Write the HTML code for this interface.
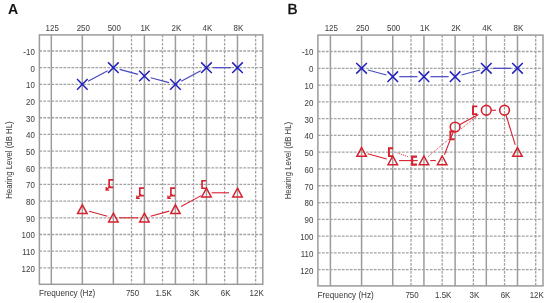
<!DOCTYPE html>
<html><head><meta charset="utf-8"><style>
html,body{margin:0;padding:0;background:#fff;width:550px;height:303px;overflow:hidden}
svg{display:block}
</style></head><body>
<svg width="550" height="303" viewBox="0 0 550 303">
<style>
.d{stroke:#a2a2a2;stroke-width:1.3;stroke-dasharray:2.7 1.3;fill:none}
.s{stroke:#9c9c9c;stroke-width:1.5}
.tk{font-family:"Liberation Sans",sans-serif;font-size:9px;fill:#444444;stroke:#444444;stroke-width:0.05px}
.fq{font-family:"Liberation Sans",sans-serif;font-size:8.6px;fill:#444444;stroke:#444444;stroke-width:0.05px}
.hl{font-family:"Liberation Sans",sans-serif;font-size:8.3px;fill:#444444;stroke:#444444;stroke-width:0.05px}
.big{font-family:"Liberation Sans",sans-serif;font-size:15px;font-weight:bold;fill:#111}
.big2{font-family:"Liberation Sans",sans-serif;font-size:15px;fill:#111;stroke:#111;stroke-width:0.45px}
.bx{stroke:#2020c0;stroke-width:1.5;fill:none}
.bl{stroke:#4848c4;stroke-width:1.2;fill:none}
.rt{stroke:#d7202e;stroke-width:1.5;fill:none;stroke-linejoin:miter}
.rb{stroke:#d7202e;stroke-width:1.65;fill:none}
.rc{stroke:#d7202e;stroke-width:1.6;fill:none}
.ra{stroke:#d7202e;stroke-width:1.3;fill:none;stroke-linejoin:miter}
.rl{stroke:#d7202e;stroke-width:1.1;fill:none}
.rd{stroke:#d7202e;stroke-width:0.9;stroke-dasharray:1 1;fill:none}
</style>
<rect width="550" height="303" fill="#fff"/>
<line x1="39.4" y1="51.02" x2="262.8" y2="51.02" class="d"/>
<line x1="39.4" y1="67.7" x2="262.8" y2="67.7" class="d"/>
<line x1="39.4" y1="84.38" x2="262.8" y2="84.38" class="d"/>
<line x1="39.4" y1="101.06" x2="262.8" y2="101.06" class="d"/>
<line x1="39.4" y1="117.74" x2="262.8" y2="117.74" class="d"/>
<line x1="39.4" y1="134.42" x2="262.8" y2="134.42" class="d"/>
<line x1="39.4" y1="151.1" x2="262.8" y2="151.1" class="d"/>
<line x1="39.4" y1="167.78" x2="262.8" y2="167.78" class="d"/>
<line x1="39.4" y1="184.46" x2="262.8" y2="184.46" class="d"/>
<line x1="39.4" y1="201.14" x2="262.8" y2="201.14" class="d"/>
<line x1="39.4" y1="217.82" x2="262.8" y2="217.82" class="d"/>
<line x1="39.4" y1="234.5" x2="262.8" y2="234.5" class="d"/>
<line x1="39.4" y1="251.18" x2="262.8" y2="251.18" class="d"/>
<line x1="39.4" y1="267.86" x2="262.8" y2="267.86" class="d"/>
<line x1="131.51" y1="34.9" x2="131.51" y2="284.3" class="d"/>
<line x1="162.54" y1="34.9" x2="162.54" y2="284.3" class="d"/>
<line x1="193.57" y1="34.9" x2="193.57" y2="284.3" class="d"/>
<line x1="224.6" y1="34.9" x2="224.6" y2="284.3" class="d"/>
<line x1="255.63" y1="34.9" x2="255.63" y2="284.3" class="d"/>
<line x1="51.3" y1="34.9" x2="51.3" y2="284.3" class="s"/>
<line x1="82.33" y1="34.9" x2="82.33" y2="284.3" class="s"/>
<line x1="113.36" y1="34.9" x2="113.36" y2="284.3" class="s"/>
<line x1="144.39" y1="34.9" x2="144.39" y2="284.3" class="s"/>
<line x1="175.42" y1="34.9" x2="175.42" y2="284.3" class="s"/>
<line x1="206.45" y1="34.9" x2="206.45" y2="284.3" class="s"/>
<line x1="237.48" y1="34.9" x2="237.48" y2="284.3" class="s"/>
<rect x="39.4" y="34.9" width="223.4" height="249.4" class="s" fill="none"/>
<text transform="translate(8.1 13.9) scale(0.94 1)" class="big">A</text>
<text transform="translate(52.2 30.9) scale(0.88 1)" class="tk" text-anchor="middle">125</text>
<text transform="translate(83.23 30.9) scale(0.88 1)" class="tk" text-anchor="middle">250</text>
<text transform="translate(114.26 30.9) scale(0.88 1)" class="tk" text-anchor="middle">500</text>
<text transform="translate(145.29 30.9) scale(0.88 1)" class="tk" text-anchor="middle">1K</text>
<text transform="translate(176.32 30.9) scale(0.88 1)" class="tk" text-anchor="middle">2K</text>
<text transform="translate(207.35 30.9) scale(0.88 1)" class="tk" text-anchor="middle">4K</text>
<text transform="translate(238.38 30.9) scale(0.88 1)" class="tk" text-anchor="middle">8K</text>
<text transform="translate(132.51 296.2) scale(0.88 1)" class="tk" text-anchor="middle">750</text>
<text transform="translate(163.54 296.2) scale(0.88 1)" class="tk" text-anchor="middle">1.5K</text>
<text transform="translate(194.57 296.2) scale(0.88 1)" class="tk" text-anchor="middle">3K</text>
<text transform="translate(225.6 296.2) scale(0.88 1)" class="tk" text-anchor="middle">6K</text>
<text transform="translate(256.63 296.2) scale(0.88 1)" class="tk" text-anchor="middle">12K</text>
<text transform="translate(39.1 296.2) scale(0.95 1)" class="fq">Frequency (Hz)</text>
<text transform="translate(34.8 54.92) scale(0.88 1)" class="tk" text-anchor="end">-10</text>
<text transform="translate(34.8 71.6) scale(0.88 1)" class="tk" text-anchor="end">0</text>
<text transform="translate(34.8 88.28) scale(0.88 1)" class="tk" text-anchor="end">10</text>
<text transform="translate(34.8 104.96) scale(0.88 1)" class="tk" text-anchor="end">20</text>
<text transform="translate(34.8 121.64) scale(0.88 1)" class="tk" text-anchor="end">30</text>
<text transform="translate(34.8 138.32) scale(0.88 1)" class="tk" text-anchor="end">40</text>
<text transform="translate(34.8 155) scale(0.88 1)" class="tk" text-anchor="end">50</text>
<text transform="translate(34.8 171.68) scale(0.88 1)" class="tk" text-anchor="end">60</text>
<text transform="translate(34.8 188.36) scale(0.88 1)" class="tk" text-anchor="end">70</text>
<text transform="translate(34.8 205.04) scale(0.88 1)" class="tk" text-anchor="end">80</text>
<text transform="translate(34.8 221.72) scale(0.88 1)" class="tk" text-anchor="end">90</text>
<text transform="translate(34.8 238.4) scale(0.88 1)" class="tk" text-anchor="end">100</text>
<text transform="translate(34.8 255.08) scale(0.88 1)" class="tk" text-anchor="end">110</text>
<text transform="translate(34.8 271.76) scale(0.88 1)" class="tk" text-anchor="end">120</text>
<text transform="translate(12.2 160.1) rotate(-90) scale(0.946 1)" class="hl" text-anchor="middle">Hearing Level (dB HL)</text>
<line x1="317.9" y1="51.52" x2="543" y2="51.52" class="d"/>
<line x1="317.9" y1="68.3" x2="543" y2="68.3" class="d"/>
<line x1="317.9" y1="85.08" x2="543" y2="85.08" class="d"/>
<line x1="317.9" y1="101.86" x2="543" y2="101.86" class="d"/>
<line x1="317.9" y1="118.64" x2="543" y2="118.64" class="d"/>
<line x1="317.9" y1="135.42" x2="543" y2="135.42" class="d"/>
<line x1="317.9" y1="152.2" x2="543" y2="152.2" class="d"/>
<line x1="317.9" y1="168.98" x2="543" y2="168.98" class="d"/>
<line x1="317.9" y1="185.76" x2="543" y2="185.76" class="d"/>
<line x1="317.9" y1="202.54" x2="543" y2="202.54" class="d"/>
<line x1="317.9" y1="219.32" x2="543" y2="219.32" class="d"/>
<line x1="317.9" y1="236.1" x2="543" y2="236.1" class="d"/>
<line x1="317.9" y1="252.88" x2="543" y2="252.88" class="d"/>
<line x1="317.9" y1="269.66" x2="543" y2="269.66" class="d"/>
<line x1="411" y1="35.1" x2="411" y2="285.9" class="d"/>
<line x1="442.18" y1="35.1" x2="442.18" y2="285.9" class="d"/>
<line x1="473.36" y1="35.1" x2="473.36" y2="285.9" class="d"/>
<line x1="504.54" y1="35.1" x2="504.54" y2="285.9" class="d"/>
<line x1="535.72" y1="35.1" x2="535.72" y2="285.9" class="d"/>
<line x1="330.4" y1="35.1" x2="330.4" y2="285.9" class="s"/>
<line x1="361.58" y1="35.1" x2="361.58" y2="285.9" class="s"/>
<line x1="392.76" y1="35.1" x2="392.76" y2="285.9" class="s"/>
<line x1="423.94" y1="35.1" x2="423.94" y2="285.9" class="s"/>
<line x1="455.12" y1="35.1" x2="455.12" y2="285.9" class="s"/>
<line x1="486.3" y1="35.1" x2="486.3" y2="285.9" class="s"/>
<line x1="517.48" y1="35.1" x2="517.48" y2="285.9" class="s"/>
<rect x="317.9" y="35.1" width="225.1" height="250.8" class="s" fill="none"/>
<text x="287.6" y="13.9" class="big2">B</text>
<text transform="translate(331.3 30.9) scale(0.88 1)" class="tk" text-anchor="middle">125</text>
<text transform="translate(362.48 30.9) scale(0.88 1)" class="tk" text-anchor="middle">250</text>
<text transform="translate(393.66 30.9) scale(0.88 1)" class="tk" text-anchor="middle">500</text>
<text transform="translate(424.84 30.9) scale(0.88 1)" class="tk" text-anchor="middle">1K</text>
<text transform="translate(456.02 30.9) scale(0.88 1)" class="tk" text-anchor="middle">2K</text>
<text transform="translate(487.2 30.9) scale(0.88 1)" class="tk" text-anchor="middle">4K</text>
<text transform="translate(518.38 30.9) scale(0.88 1)" class="tk" text-anchor="middle">8K</text>
<text transform="translate(412 297.7) scale(0.88 1)" class="tk" text-anchor="middle">750</text>
<text transform="translate(443.18 297.7) scale(0.88 1)" class="tk" text-anchor="middle">1.5K</text>
<text transform="translate(474.36 297.7) scale(0.88 1)" class="tk" text-anchor="middle">3K</text>
<text transform="translate(505.54 297.7) scale(0.88 1)" class="tk" text-anchor="middle">6K</text>
<text transform="translate(536.72 297.7) scale(0.88 1)" class="tk" text-anchor="middle">12K</text>
<text transform="translate(317.6 297.7) scale(0.95 1)" class="fq">Frequency (Hz)</text>
<text transform="translate(313.4 55.42) scale(0.88 1)" class="tk" text-anchor="end">-10</text>
<text transform="translate(313.4 72.2) scale(0.88 1)" class="tk" text-anchor="end">0</text>
<text transform="translate(313.4 88.98) scale(0.88 1)" class="tk" text-anchor="end">10</text>
<text transform="translate(313.4 105.76) scale(0.88 1)" class="tk" text-anchor="end">20</text>
<text transform="translate(313.4 122.54) scale(0.88 1)" class="tk" text-anchor="end">30</text>
<text transform="translate(313.4 139.32) scale(0.88 1)" class="tk" text-anchor="end">40</text>
<text transform="translate(313.4 156.1) scale(0.88 1)" class="tk" text-anchor="end">50</text>
<text transform="translate(313.4 172.88) scale(0.88 1)" class="tk" text-anchor="end">60</text>
<text transform="translate(313.4 189.66) scale(0.88 1)" class="tk" text-anchor="end">70</text>
<text transform="translate(313.4 206.44) scale(0.88 1)" class="tk" text-anchor="end">80</text>
<text transform="translate(313.4 223.22) scale(0.88 1)" class="tk" text-anchor="end">90</text>
<text transform="translate(313.4 240) scale(0.88 1)" class="tk" text-anchor="end">100</text>
<text transform="translate(313.4 256.78) scale(0.88 1)" class="tk" text-anchor="end">110</text>
<text transform="translate(313.4 273.56) scale(0.88 1)" class="tk" text-anchor="end">120</text>
<text transform="translate(290.8 160.6) rotate(-90) scale(0.946 1)" class="hl" text-anchor="middle">Hearing Level (dB HL)</text>
<line x1="88.06" y1="81.3" x2="107.63" y2="70.78" class="bl"/>
<line x1="119.64" y1="69.39" x2="138.11" y2="74.35" class="bl"/>
<line x1="150.67" y1="77.73" x2="169.14" y2="82.69" class="bl"/>
<line x1="181.15" y1="81.3" x2="200.72" y2="70.78" class="bl"/>
<line x1="212.95" y1="67.7" x2="230.98" y2="67.7" class="bl"/>
<path d="M77.03 79.08L87.63 89.68M87.63 79.08L77.03 89.68" class="bx"/>
<path d="M108.06 62.4L118.66 73M118.66 62.4L108.06 73" class="bx"/>
<path d="M139.09 70.74L149.69 81.34M149.69 70.74L139.09 81.34" class="bx"/>
<path d="M170.12 79.08L180.72 89.68M180.72 79.08L170.12 89.68" class="bx"/>
<path d="M201.15 62.4L211.75 73M211.75 62.4L201.15 73" class="bx"/>
<path d="M232.18 62.4L242.78 73M242.78 62.4L232.18 73" class="bx"/>
<line x1="89.09" y1="211.3" x2="107.37" y2="216.21" class="rl"/>
<line x1="118.96" y1="217.82" x2="138.29" y2="217.82" class="rl"/>
<line x1="150.57" y1="216.16" x2="169.24" y2="211.14" class="rl"/>
<line x1="181.06" y1="206.45" x2="201.17" y2="195.64" class="rl"/>
<line x1="211.65" y1="192.8" x2="229.08" y2="192.8" class="rl"/>
<path d="M82.33 204.88L87.08 213.58L77.58 213.58Z" class="rt"/>
<path d="M113.36 213.22L118.11 221.92L108.61 221.92Z" class="rt"/>
<path d="M144.39 213.22L149.14 221.92L139.64 221.92Z" class="rt"/>
<path d="M175.42 204.88L180.17 213.58L170.67 213.58Z" class="rt"/>
<path d="M206.45 188.2L211.2 196.9L201.7 196.9Z" class="rt"/>
<path d="M237.48 188.2L242.23 196.9L232.73 196.9Z" class="rt"/>
<path d="M113.26 179.81H109.16V187.31H113.26" class="rb"/>
<path d="M110.36 185.86L106.16 190.06M106.16 187.06V190.06H109.16" class="ra"/>
<path d="M143.89 188.15H139.79V195.65H143.89" class="rb"/>
<path d="M140.99 194.2L136.79 198.4M136.79 195.4V198.4H139.79" class="ra"/>
<path d="M175.02 188.15H170.92V195.65H175.02" class="rb"/>
<path d="M172.12 194.2L167.92 198.4M167.92 195.4V198.4H170.92" class="ra"/>
<path d="M206.15 180.71H202.05V188.21H206.15" class="rb"/>
<line x1="367.86" y1="69.99" x2="386.48" y2="75" class="bl"/>
<line x1="399.26" y1="76.69" x2="417.44" y2="76.69" class="bl"/>
<line x1="430.44" y1="76.69" x2="448.62" y2="76.69" class="bl"/>
<line x1="461.4" y1="75" x2="480.02" y2="69.99" class="bl"/>
<line x1="492.8" y1="68.3" x2="510.98" y2="68.3" class="bl"/>
<path d="M356.28 63L366.88 73.6M366.88 63L356.28 73.6" class="bx"/>
<path d="M387.46 71.39L398.06 81.99M398.06 71.39L387.46 81.99" class="bx"/>
<path d="M418.64 71.39L429.24 81.99M429.24 71.39L418.64 81.99" class="bx"/>
<path d="M449.82 71.39L460.42 81.99M460.42 71.39L449.82 81.99" class="bx"/>
<path d="M481 63L491.6 73.6M491.6 63L481 73.6" class="bx"/>
<path d="M512.18 63L522.78 73.6M522.78 63L512.18 73.6" class="bx"/>
<line x1="367.66" y1="153.84" x2="386.68" y2="158.95" class="rl"/>
<line x1="399.06" y1="160.59" x2="417.64" y2="160.59" class="rl"/>
<line x1="430.24" y1="160.59" x2="435.88" y2="160.59" class="rl"/>
<line x1="444.45" y1="154.71" x2="453.14" y2="132.16" class="rl"/>
<line x1="459.52" y1="124.66" x2="478.37" y2="114.52" class="rl"/>
<line x1="491.6" y1="110.25" x2="496.04" y2="110.25" class="rl"/>
<line x1="506.19" y1="115.6" x2="515.24" y2="144.94" class="rl"/>
<line x1="397.4" y1="153" x2="408" y2="156.6" class="rd"/>
<line x1="428.1" y1="156.6" x2="449" y2="139" class="rd"/>
<line x1="461.1" y1="129" x2="477.5" y2="115.6" class="rd"/>
<path d="M361.58 147.6L366.33 156.3L356.83 156.3Z" class="rt"/>
<path d="M392.76 155.99L397.51 164.69L388.01 164.69Z" class="rt"/>
<path d="M423.94 155.99L428.69 164.69L419.19 164.69Z" class="rt"/>
<path d="M442.18 155.99L446.93 164.69L437.43 164.69Z" class="rt"/>
<path d="M517.48 147.6L522.23 156.3L512.73 156.3Z" class="rt"/>
<circle cx="455.12" cy="127.03" r="4.85" class="rc"/>
<circle cx="486.3" cy="110.25" r="4.85" class="rc"/>
<circle cx="504.54" cy="110.25" r="4.85" class="rc"/>
<path d="M393.06 148.3H388.96V156.1H393.06" class="rb" style="stroke-width:1.9"/>
<path d="M416.94 156.59H412.14V164.59H416.94" class="rb" style="stroke-width:2.1"/>
<path d="M454.62 131.52H450.32V139.32H454.62" class="rb" style="stroke-width:1.9"/>
<path d="M477.3 106.35H473V114.15H477.3" class="rb" style="stroke-width:1.9"/>
</svg>
</body></html>
